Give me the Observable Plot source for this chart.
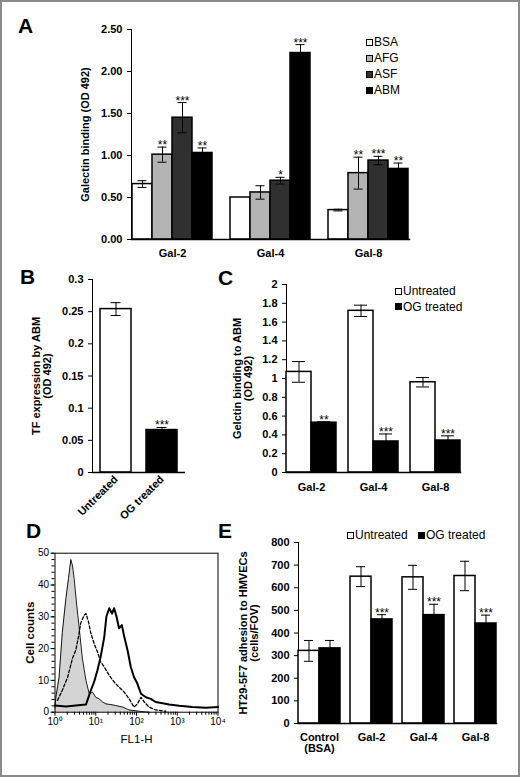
<!DOCTYPE html>
<html><head><meta charset="utf-8">
<script src="https://cdn.jsdelivr.net/npm/d3@7"></script>
<script src="https://cdn.jsdelivr.net/npm/@observablehq/plot@0.6"></script>
<style>
body{margin:0;background:#fff;}
#fig{position:relative;width:520px;height:777px;overflow:hidden;background:#fff;font-family:"Liberation Sans",Arial,Helvetica,sans-serif;color:#000;}
.pane{position:absolute;}
.letter{position:absolute;font-weight:bold;font-size:21px;line-height:21px;}
.leg{position:absolute;font-size:12px;line-height:12px;white-space:nowrap;display:flex;align-items:center;}
.sw{display:inline-block;box-sizing:border-box;width:7px;height:7px;border:1px solid #000;margin-right:1px;}
#border{position:absolute;left:0;top:0;width:520px;height:777px;box-sizing:border-box;border:2px solid #8a8a8a;pointer-events:none;}
</style></head><body>
<div id="fig"></div>
<script>
// ---------- Panel A data ----------
const galA = ["Gal-2", "Gal-4", "Gal-8"];
const coatA = ["BSA", "AFG", "ASF", "ABM"];
const valA = [[0.66, 1.01, 1.45, 1.03], [0.50, 0.56, 0.70, 2.22], [0.35, 0.79, 0.94, 0.84]];
const errA = [[0.04, 0.09, 0.18, 0.06], [0.00, 0.08, 0.04, 0.10], [0.01, 0.19, 0.05, 0.07]];
const sigA = [["", "**", "***", "**"], ["", "", "*", "***"], ["", "**", "***", "**"]];
const ticksA = [0, 0.5, 1, 1.5, 2, 2.5];

// ---------- Panel B data ----------
const groupsB = ["Untreated", "OG treated"];
const valB = [0.254, 0.066];
const errB = [0.010, 0.004];
const sigB = ["", "***"];
const ticksB = [0, 0.05, 0.1, 0.15, 0.2, 0.25, 0.3];

// ---------- Panel C data ----------
const galC = ["Gal-2", "Gal-4", "Gal-8"];
const treatC = ["Untreated", "OG treated"];
const valC = [[1.07, 0.53], [1.72, 0.33], [0.96, 0.34]];
const errC = [[0.11, 0.01], [0.06, 0.08], [0.05, 0.05]];
const sigC = [["", "**"], ["", "***"], ["", "***"]];
const ticksC = [0, 0.2, 0.4, 0.6, 0.8, 1, 1.2, 1.4, 1.6, 1.8, 2];

// ---------- Panel D data (flow cytometry histograms) ----------
const isoX = [1.0, 1.05, 1.26, 1.51, 1.86, 2.14, 2.45, 2.69, 2.95, 3.39, 3.89, 4.68, 5.75, 6.92, 8.32, 10.0, 12.0, 14.8, 17.8, 23.4, 30.9, 45.7, 66.1, 117, 200];
const isoY = [1.5, 4.7, 11, 25, 36, 42, 48, 46, 42, 34, 27, 17, 10, 5.8, 6.3, 4.7, 4.2, 3.2, 2.6, 2.4, 2.1, 1.6, 0.7, 0.3, 0];
const dashX = [1.15, 1.51, 2.04, 2.69, 3.24, 3.80, 4.27, 5.25, 5.75, 6.61, 7.59, 9.12, 11.0, 13.2, 16.2, 21.4, 28.2, 37.2, 50.1, 66.1, 87.1, 105, 129, 155, 204, 295, 525];
const dashY = [3.7, 6.9, 11, 17, 19.5, 24, 28, 30.6, 31, 28.5, 24.8, 21.6, 19, 15.8, 14.2, 11.6, 9.5, 7.9, 6.3, 4.2, 1.6, 2.6, 4.7, 3.2, 1.6, 0.7, 0.3];
const thickX = [1.0, 1.86, 3.24, 5.75, 7.59, 9.12, 11.0, 13.2, 16.2, 18.2, 21.4, 25.1, 28.2, 32.4, 37.2, 43.7, 50.1, 60.3, 72.4, 87.1, 105, 129, 170, 224, 295, 437, 631, 1120, 2340, 5010, 10000];
const thickY = [2.1, 1.8, 2.1, 2.4, 6.9, 9.5, 13.2, 17.4, 23.7, 30, 32.7, 31, 32.7, 30, 26.4, 27.4, 23.7, 19.5, 14.2, 11, 9, 5.8, 4.7, 4.2, 3.2, 2.8, 2.4, 2.0, 1.6, 1.4, 1.6];
const ticksDX = [1, 10, 100, 1000, 10000];
const ticksDXLabels = ["10\u2070", "10\u00B9", "10\u00B2", "10\u00B3", "10\u2074"];
const ticksDY = [0, 10, 20, 30, 40, 50];

// ---------- Panel E data ----------
const catE = ["Control\n(BSA)", "Gal-2", "Gal-4", "Gal-8"];
const treatE = ["Untreated", "OG treated"];
const valE = [[321, 332], [649, 460], [646, 479], [652, 442]];
const errE = [[46, 35], [44, 21], [53, 48], [65, 37]];
const sigE = [["", ""], ["", "***"], ["", "***"], ["", "***"]];
const ticksE = [0, 100, 200, 300, 400, 500, 600, 700, 800];

// ---------- helpers ----------
const FONT = "'Liberation Sans', Arial, Helvetica, sans-serif";
const fig = document.getElementById("fig");
function place(el, left, top) {
  el.classList.add("pane");
  el.style.left = left + "px";
  el.style.top = top + "px";
  fig.appendChild(el);
}
function baseStyle(weight) {
  return {fontFamily: FONT, fontSize: "11px", fontWeight: weight, color: "#000", background: "transparent", overflow: "visible"};
}
function errMarks(data, fx, x, inset) {
  const withErr = data.filter(d => d.e > 0);
  return [
    Plot.ruleX(withErr, {fx, x, y1: d => d.v - d.e, y2: d => d.v + d.e, stroke: "#000", strokeWidth: 1}),
    Plot.tickY(withErr, {fx, x, y: d => d.v + d.e, stroke: "#000", strokeWidth: 1, insetLeft: inset, insetRight: inset}),
    Plot.tickY(withErr, {fx, x, y: d => d.v - d.e, stroke: "#000", strokeWidth: 1, insetLeft: inset, insetRight: inset}),
    Plot.text(data, {fx, x, y: d => d.v + d.e, text: "s", lineAnchor: "bottom", dy: 2, fontSize: 12, fontWeight: "normal", fill: "#000"})
  ];
}
const baseLine = () => Plot.frame({anchor: "bottom", facet: "super", stroke: "#000", strokeWidth: 1.5});

// ---------- Panel A ----------
const dataA = galA.flatMap((g, i) => coatA.map((c, j) => ({gal: g, coat: c, v: valA[i][j], e: errA[i][j], s: sigA[i][j]})));
const plotA = Plot.plot({
  width: 520, height: 265,
  marginLeft: 122, marginRight: 102, marginTop: 29, marginBottom: 26,
  style: baseStyle("bold"),
  fx: {domain: galA, paddingInner: 0.16, paddingOuter: 0.08, axis: "bottom", label: null, tickSize: 0, tickPadding: 10},
  x: {domain: coatA, padding: 0, axis: null},
  y: {domain: [0, 2.5], ticks: ticksA, tickFormat: d3.format(".2f"), tickSize: 4, line: true,
      label: "Galectin binding (OD 492)", labelAnchor: "center", labelOffset: 50, labelArrow: "none"},
  color: {domain: coatA, range: ["#ffffff", "#b4b4b4", "#303030", "#000000"]},
  marks: [
    Plot.barY(dataA, {fx: "gal", x: "coat", y: "v", fill: "coat", stroke: "#000", strokeWidth: 1.5}),
    ...errMarks(dataA, "gal", "coat", 5.5),
    baseLine()
  ]
});
place(plotA, 0, 0);

// ---------- Panel B ----------
const dataB = groupsB.map((g, i) => ({g, v: valB[i], e: errB[i], s: sigB[i]}));
const plotB = Plot.plot({
  width: 205, height: 270,
  marginLeft: 92, marginRight: 20, marginTop: 17, marginBottom: 60,
  style: baseStyle("bold"),
  x: {domain: groupsB, paddingInner: 0.33, paddingOuter: 0.17, tickRotate: -45, tickSize: 0, tickPadding: 5, label: null},
  y: {domain: [0, 0.3], ticks: ticksB, tickFormat: d3.format("~g"), tickSize: 4, line: true,
      label: "TF expression by ABM\n(OD 492)", labelAnchor: "center", labelOffset: 60, labelArrow: "none"},
  color: {domain: groupsB, range: ["#ffffff", "#000000"]},
  marks: [
    Plot.barY(dataB, {x: "g", y: "v", fill: "g", stroke: "#000", strokeWidth: 1.5}),
    ...errMarks(dataB, undefined, "g", 10.5),
    Plot.ruleY([0], {stroke: "#000", strokeWidth: 1.5})
  ]
});
place(plotB, 0, 262);

// ---------- Panel C ----------
const dataC = galC.flatMap((g, i) => treatC.map((t, j) => ({gal: g, t, v: valC[i][j], e: errC[i][j], s: sigC[i][j]})));
const plotC = Plot.plot({
  width: 315, height: 235,
  marginLeft: 72, marginRight: 51, marginTop: 22, marginBottom: 25,
  style: baseStyle("bold"),
  fx: {domain: galC, paddingInner: 0.19, paddingOuter: 0.13, axis: "bottom", label: null, tickSize: 0, tickPadding: 11},
  x: {domain: treatC, padding: 0, axis: null},
  y: {domain: [0, 2], ticks: ticksC, tickFormat: d3.format("~g"), tickSize: 4, line: true,
      label: "Gelctin binding to ABM\n(OD 492)", labelAnchor: "center", labelOffset: 53, labelArrow: "none"},
  color: {domain: treatC, range: ["#ffffff", "#000000"]},
  marks: [
    Plot.barY(dataC, {fx: "gal", x: "t", y: "v", fill: "t", stroke: "#000", strokeWidth: 1.5}),
    ...errMarks(dataC, "gal", "t", 6),
    baseLine()
  ]
});
place(plotC, 205, 262);

// ---------- Panel D ----------
const isoD = isoX.map((x, i) => ({x, y: isoY[i]}));
const dashD = dashX.map((x, i) => ({x, y: dashY[i]}));
const thickD = thickX.map((x, i) => ({x, y: thickY[i]}));
const minorDX = d3.range(0, 4).flatMap(k => d3.range(2, 10).map(m => m * 10 ** k));
const minorDY = d3.range(0, 51, 2);
const plotD = Plot.plot({
  width: 230, height: 230,
  marginLeft: 54.5, marginRight: 12.5, marginTop: 12.7, marginBottom: 58.3,
  style: baseStyle("normal"),
  x: {type: "log", domain: [1, 10000]},
  y: {domain: [0, 50]},
  marks: [
    Plot.areaY(isoD, {x: "x", y: "y", fill: "#d4d4d4"}),
    Plot.lineY(isoD, {x: "x", y: "y", stroke: "#000", strokeWidth: 0.9}),
    Plot.lineY(dashD, {x: "x", y: "y", stroke: "#000", strokeWidth: 1.3, strokeDasharray: "3,2"}),
    Plot.lineY(thickD, {x: "x", y: "y", stroke: "#000", strokeWidth: 2}),
    Plot.frame({stroke: "#000", strokeWidth: 1}),
    Plot.axisX(minorDX, {tickSize: 3, tickFormat: () => "", label: null}),
    Plot.axisX(ticksDX, {tickSize: 4, tickPadding: 2, tickFormat: d => ticksDXLabels[ticksDX.indexOf(d)], fontSize: 10, label: null}),
    Plot.axisY(minorDY, {tickSize: 3, tickFormat: () => "", label: null}),
    Plot.axisY(ticksDY, {tickSize: 4, tickPadding: 2, fontSize: 10, label: null}),
    Plot.text(["FL1-H"], {text: d => d, frameAnchor: "bottom", textAnchor: "middle", lineAnchor: "bottom", dy: 31, fontSize: 11.5}),
    Plot.text(["Cell counts"], {text: d => d, frameAnchor: "left", textAnchor: "middle", lineAnchor: "top", rotate: -90, dx: -29.5, fontSize: 11.5, fontWeight: "bold"})
  ]
});
place(plotD, 0, 540);

// ---------- Panel E ----------
const dataE = catE.flatMap((c, i) => treatE.map((t, j) => ({c, t, v: valE[i][j], e: errE[i][j], s: sigE[i][j]})));
const plotE = Plot.plot({
  width: 315, height: 245,
  marginLeft: 88, marginRight: 18, marginTop: 17, marginBottom: 47,
  style: baseStyle("bold"),
  fx: {domain: catE, paddingInner: 0.19, paddingOuter: 0.1, axis: "bottom", label: null, tickSize: 0, tickPadding: 10},
  x: {domain: treatE, padding: 0, axis: null},
  y: {domain: [0, 800], ticks: ticksE, tickSize: 4, line: true,
      label: "HT29-5F7 adhesion to HMVECs\n(cells/FOV)", labelAnchor: "center", labelOffset: 59, labelArrow: "none"},
  color: {domain: treatE, range: ["#ffffff", "#000000"]},
  marks: [
    Plot.barY(dataE, {fx: "c", x: "t", y: "v", fill: "t", stroke: "#000", strokeWidth: 1.5}),
    ...errMarks(dataE, "c", "t", 6),
    baseLine()
  ]
});
place(plotE, 205, 525);

// ---------- panel letters ----------
[["A", 18, 15], ["B", 20, 266], ["C", 218, 267], ["D", 26, 520], ["E", 218, 520]].forEach(([t, l, tp]) => {
  const d = document.createElement("div");
  d.className = "letter"; d.textContent = t;
  d.style.left = l + "px"; d.style.top = tp + "px";
  fig.appendChild(d);
});

// ---------- legends ----------
function legendItem(label, color, left, centerY) {
  const d = document.createElement("div");
  d.className = "leg";
  d.style.left = left + "px"; d.style.top = (centerY - 6) + "px";
  const s = document.createElement("span");
  s.className = "sw"; s.style.background = color;
  d.appendChild(s);
  d.appendChild(document.createTextNode(label));
  fig.appendChild(d);
}
const legColA = ["#ffffff", "#b4b4b4", "#303030", "#000000"];
coatA.forEach((c, i) => legendItem(c, legColA[i], 366, 42 + i * 16));
legendItem(treatC[0], "#ffffff", 395, 291);
legendItem(treatC[1], "#000000", 395, 306.5);
legendItem(treatE[0], "#ffffff", 347, 535);
legendItem(treatE[1], "#000000", 418, 535);

const b = document.createElement("div"); b.id = "border"; fig.appendChild(b);
</script>
</body></html>
